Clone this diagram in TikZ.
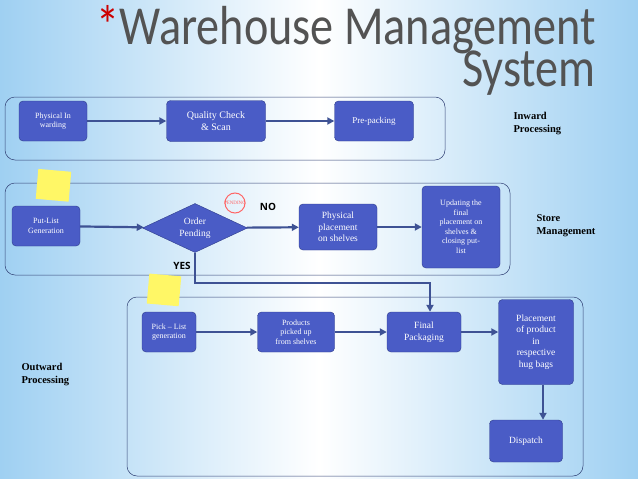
\documentclass[tikz,border=0pt]{standalone}
\usepackage{fontspec}
\setmainfont{Liberation Serif}
\newfontfamily\titlefont{Carlito}
\newfontfamily\labfont{Open Sans}
\usetikzlibrary{shapes.geometric,arrows.meta}
\definecolor{boxf}{HTML}{4A5CC6}
\definecolor{boxd}{HTML}{2E3C8A}
\definecolor{arr}{HTML}{3E5294}
\definecolor{bgb}{HTML}{9FD0F2}
\begin{document}
\begin{tikzpicture}[x=1pt,y=-1pt,
  box/.style={draw=boxd,fill=boxf,rounded corners=4pt,text=white,align=center,font=\fontsize{8}{9.5}\selectfont,inner sep=2pt},
  frame/.style={draw=arr!80!black,line width=0.5pt,rounded corners=10pt},
  ar/.style={-{Triangle[length=7pt,width=7pt]},draw=arr,line width=2.2pt},
  lab/.style={font=\bfseries\fontsize{10.5}{13}\selectfont,align=left,anchor=west}]
\useasboundingbox (0,0) rectangle (638,479);
\shade[left color=bgb,right color=bgb,middle color=white] (0,0) rectangle (638,479);
% title
\node[anchor=base east,inner sep=0,text=gray!65!black,font=\titlefont\fontsize{55}{55}\selectfont,xscale=0.84] (title) at (596,44) {\textcolor{red!80!black}{*}Warehouse Management};
\node[anchor=base east,inner sep=0,text=gray!65!black,font=\titlefont\fontsize{55}{55}\selectfont,xscale=0.84] (title2) at (596,86) {System};
% frames
\draw[frame] (5,97) rectangle (445,160);
\draw[frame] (5,183) rectangle (510,275);
\draw[frame] (127,297) rectangle (583,476);
% decorations
\fill[yellow!60,rotate around={-5:(50,185)}] (37,170) rectangle (70,200);
\fill[yellow!60,rotate around={-5:(165,290)}] (148,275) rectangle (180,305);
\draw[red!60,line width=1pt] (235,203) circle (10);
\node[font=\tiny,text=red!60] (pend) at (235,203) {PENDING};
% nodes
\node[box,minimum width=68pt,minimum height=40pt] (pi) at (53,121) {Physical In\\warding};
\node[box,minimum width=99pt,minimum height=41pt,font=\fontsize{10}{12}\selectfont] (qc) at (216,121) {Quality Check\\\& Scan};
\node[box,minimum width=79pt,minimum height=40pt,font=\fontsize{9}{11}\selectfont] (pp) at (374,121) {Pre-packing};
\node[box,minimum width=68pt,minimum height=40pt] (pl) at (46,226) {Put-List\\Generation};
\node[diamond,draw=boxd,fill=boxf,text=white,aspect=2.1,minimum width=105pt,minimum height=49pt,inner sep=0,align=center,font=\fontsize{9.5}{11.5}\selectfont] (op) at (195,228) {Order\\Pending};
\node[box,minimum width=78pt,minimum height=46pt,font=\fontsize{9.5}{11.5}\selectfont] (ph) at (338,227) {Physical\\placement\\on shelves};
\node[box,minimum width=78pt,minimum height=82pt] (up) at (461,227) {Updating the\\final\\placement on\\shelves \&\\closing put-\\list};
\node[box,minimum width=54pt,minimum height=40pt] (pk) at (169,332) {Pick -- List\\generation};
\node[box,minimum width=77pt,minimum height=40pt] (pr) at (296,332) {Products\\picked up\\from shelves};
\node[box,minimum width=74pt,minimum height=40pt,font=\fontsize{9.5}{11.5}\selectfont] (fp) at (424,332) {Final\\Packaging};
\node[box,minimum width=75pt,minimum height=85pt,font=\fontsize{9.5}{11.5}\selectfont] (pb) at (536,342) {Placement\\of product\\in\\respective\\hug bags};
\node[box,minimum width=73pt,minimum height=42pt,font=\fontsize{9.5}{11.5}\selectfont] (di) at (526,441) {Dispatch};
% labels
\node[lab] (l1) at (510,124) {Inward\\Processing};
\node[lab] (l2) at (533,226) {Store\\Management};
\node[lab] (l3) at (18,375) {Outward\\Processing};
\node[font=\labfont\bfseries\fontsize{10}{12}\selectfont] (no) at (268,207) {NO};
\node[font=\labfont\bfseries\fontsize{10}{12}\selectfont] (yes) at (182,266) {YES};
% arrows
\draw[ar] (pi) -- (qc);
\draw[ar] (qc) -- (pp);
\draw[ar] (pl) -- (op);
\draw[ar] (op) -- (ph);
\draw[ar] (ph) -- (up);
\draw[ar] (op.south) |- (430,283) -- (fp.north -| 430,0);
\draw[ar] (pk) -- (pr);
\draw[ar] (pr) -- (fp);
\draw[ar] (fp) -- (fp -| pb.west);
\draw[ar] (pb.south -| 543,0) -- (di.north -| 543,0);
\end{tikzpicture}
\end{document}
